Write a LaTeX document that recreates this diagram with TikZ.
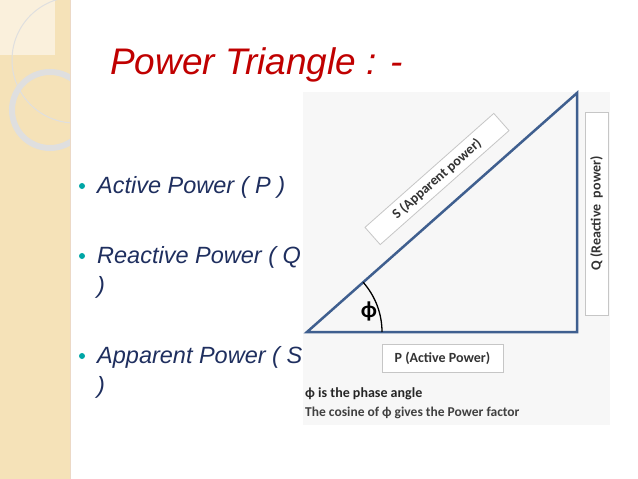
\documentclass[tikz,border=0pt]{standalone}
\usepackage{fontspec}
\setmainfont{Liberation Sans}
\newfontfamily\carl{Carlito}
\begin{document}
\begin{tikzpicture}[x=1pt,y=-1pt,
  bul/.style={anchor=base west,font=\fontsize{23.5}{26}\selectfont\itshape,text=navy,inner sep=0},
  lbox/.style={draw=gray!45,fill=white,line width=0.8pt,font=\carl\bfseries\fontsize{14}{16}\selectfont,text=black!80,inner sep=0},
  dot/.style={circle,fill=teal!70!cyan,inner sep=0,minimum size=6pt}]
\definecolor{navy}{HTML}{1F2F5F}
\definecolor{beige}{HTML}{F5E2B8}
\definecolor{tri}{HTML}{3F5F8F}
\definecolor{titred}{HTML}{C00000}
\useasboundingbox (0,0) rectangle (638,479);
\fill[white] (0,0) rectangle (638,479);
\fill[beige] (0,0) rectangle (70,479);
\fill[beige!50] (0,0) rectangle (55,55);
\draw[brown!30,line width=1.5pt] (70.5,0) -- (70.5,479);
\begin{scope}
\clip (0,0) rectangle (70,479);
\draw[white!75!gray,line width=1pt] (75,60) circle (63);
\draw[gray!25,line width=6pt] (50,110) circle (38);
\end{scope}
\node[anchor=base west,font=\fontsize{37}{40}\selectfont\itshape,text=titred,inner sep=0] (title) at (110,74) {Power Triangle : -};
\node[dot] (b1) at (82,186) {};
\node[dot] (b2) at (82,256) {};
\node[dot] (b3) at (82,356) {};
\node[bul] (t1) at (97,193) {Active Power ( P )};
\node[bul] (t2) at (97,263) {Reactive Power ( Q};
\node[bul] (t2b) at (97,293) {)};
\node[bul] (t3) at (97,363) {Apparent Power ( S};
\node[bul] (t3b) at (97,393) {)};
\fill[black!3] (303,92) rectangle (610,425);
\coordinate (A) at (307,332);
\coordinate (B) at (577,332);
\coordinate (C) at (577,93);
\draw[tri,line width=2.5pt,line join=miter] (A) -- (B) -- (C) -- cycle;
\draw[black,line width=1.3pt] (382,332) arc[start angle=0,end angle=-41.5,radius=75];
\node[font=\carl\bfseries\fontsize{23}{23}\selectfont] (phi) at (369,311) {ϕ};
\node[lbox,minimum width=172,minimum height=23,rotate=41.5] (S) at (437,179) {S (Apparent power)};
\node[lbox,minimum width=203,minimum height=23,rotate=90] (Q) at (596.5,213.5) {Q (Reactive\ \ power)};
\node[lbox,minimum width=121,minimum height=28] (P) at (442.5,358) {P (Active Power)};
\node[anchor=base west,font=\carl\bfseries\fontsize{14}{16}\selectfont,inner sep=0,text=black!85] (n1) at (305,397) {ϕ is the phase angle};
\node[anchor=base west,font=\carl\bfseries\fontsize{13.5}{15}\selectfont,inner sep=0,text=black!75] (n2) at (305,416) {The cosine of ϕ gives the Power factor};
\end{tikzpicture}
\end{document}
